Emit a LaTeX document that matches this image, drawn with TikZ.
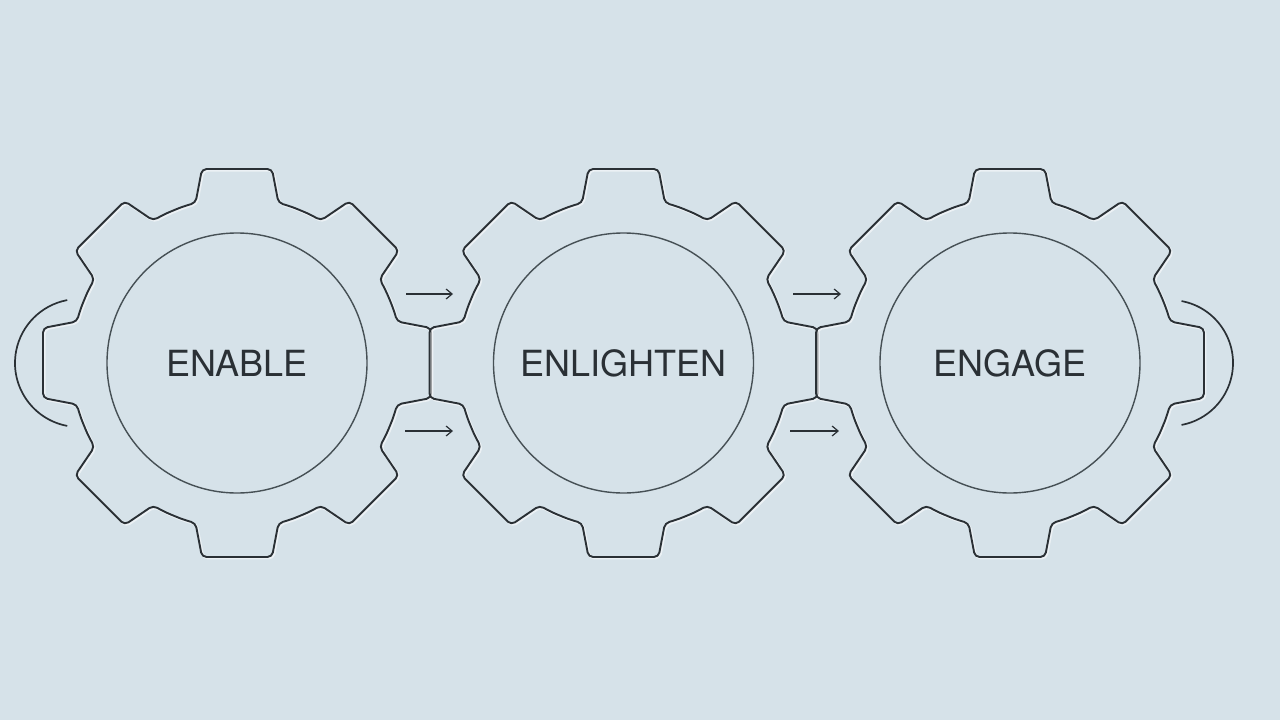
\documentclass[tikz,border=0pt]{standalone}
\usepackage{fontspec}
\setmainfont{TeX Gyre Heros}
\usetikzlibrary{arrows.meta}
\definecolor{bg}{HTML}{D6E2E9}
\definecolor{ink}{HTML}{2A3035}
\definecolor{ring}{HTML}{465055}
\tikzset{
  gearline/.style={draw=ink, line width=1.9pt, rounded corners=4.5pt, line join=round, line cap=round},
  gearglow/.style={draw=white, opacity=0.55, line width=2.4pt, rounded corners=4.5pt, line join=round, line cap=round},
  hub/.style={circle, draw=ring, line width=1.4pt, minimum size=260pt, inner sep=0pt,
    text=ink, font=\fontsize{36}{40}\selectfont},
  flow/.style={draw=ink, line width=1.2pt, -{Straight Barb[length=6pt,width=10pt]}},
  bracket/.style={draw=ink, line width=1.7pt, line cap=round}
}
\newcommand\gearoutline[1]{%
  (-22.5:165.3)
  \foreach \a in {0,45,...,315}{
    arc[start angle=\a-22.5, end angle=\a-14.54, radius=165.3]
    -- (\a-10.23:197.1) -- (\a+10.23:197.1) -- (\a+14.54:165.3)
    arc[start angle=\a+14.54, end angle=\a+22.5, radius=165.3]
  }%
}
\begin{document}
\begin{tikzpicture}[x=1pt,y=-1pt]
\fill[bg] (0,0) rectangle (1280,720);
\useasboundingbox (0,0) rectangle (1280,720);

\foreach \cx in {237,623.5,1010}{
  \begin{scope}[shift={(\cx+1.3,364.3)}]
    \draw[gearglow] \gearoutline{};
  \end{scope}
  \begin{scope}[shift={(\cx,363)}]
    \draw[gearline] \gearoutline{};
  \end{scope}
}

\node[hub] (g1) at (237,363) {ENABLE};
\node[hub] (g2) at (623.5,363) {ENLIGHTEN};
\node[hub] (g3) at (1010,363) {ENGAGE};

% flow arrows
\coordinate (a1s) at (406,294); \coordinate (a1e) at (453,294);
\coordinate (b1s) at (405,431); \coordinate (b1e) at (453,431);
\coordinate (a2s) at (793,294); \coordinate (a2e) at (841,294);
\coordinate (b2s) at (790,431); \coordinate (b2e) at (839,431);
\draw[flow] (a1s) -- (a1e);
\draw[flow] (b1s) -- (b1e);
\draw[flow] (a2s) -- (a2e);
\draw[flow] (b2s) -- (b2e);

% side brackets
\coordinate (lb) at (79,363);
\coordinate (rb) at (1170,363);
\draw[bracket] ([shift={(101:64)}]lb) arc[start angle=101, end angle=259, radius=64];
\draw[bracket] ([shift={(-79:63)}]rb) arc[start angle=-79, end angle=79, radius=63];
\end{tikzpicture}
\end{document}
